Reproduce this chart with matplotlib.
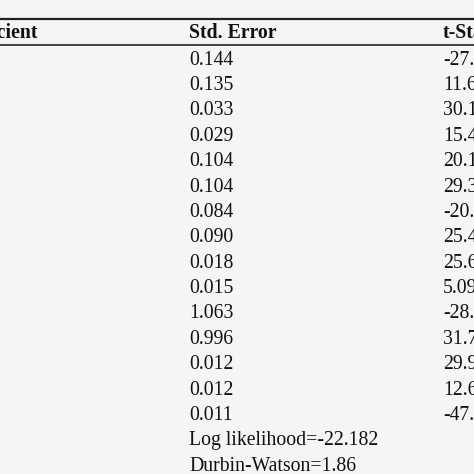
import matplotlib
matplotlib.use("Agg")
import matplotlib.pyplot as plt

std_err = ["0.144","0.135","0.033","0.029","0.104","0.104","0.084","0.090","0.018","0.015","1.063","0.996","0.012","0.012","0.011"]
t_stat = ["-27.58","11.62","30.15","15.43","20.12","29.31","-20.45","25.41","25.63","5.091","-28.14","31.72","29.95","12.64","-47.21"]
footer = ["Log likelihood=-22.182","Durbin-Watson=1.86"]
headers = ["Coefficient","Std. Error","t-Statistic"]

W = H = 474
fig = plt.figure(figsize=(4.74,4.74), dpi=100)
fig.patch.set_facecolor("#f5f5f5")
ax = fig.add_axes([0,0,1,1])
ax.set_xlim(0,W); ax.set_ylim(H,0); ax.axis("off")
ax.set_facecolor("#f5f5f5")

font = dict(family="Liberation Serif", fontsize=14.2, color="#111111", va="center")
ax.plot([0,W],[19,19],color="#222222",lw=1.6)
ax.plot([0,W],[45,45],color="#222222",lw=1.2)
ax.text(38,33,headers[0],ha="right",fontweight="bold",**font)
ax.text(189,33,headers[1],ha="left",fontweight="bold",**font)
ax.text(443,33,headers[2],ha="left",fontweight="bold",clip_on=True,**font)
y0, dy = 60, 25.4
for i,(s,t) in enumerate(zip(std_err,t_stat)):
    y = y0+i*dy
    ax.text(189,y,s,ha="left",**font)
    ax.text(443,y,t,ha="left",clip_on=True,**font)
for j,f in enumerate(footer):
    ax.text(189,y0+(len(std_err)+j)*dy,f,ha="left",**font)
fig.savefig("out.png",dpi=100,facecolor=fig.get_facecolor())
